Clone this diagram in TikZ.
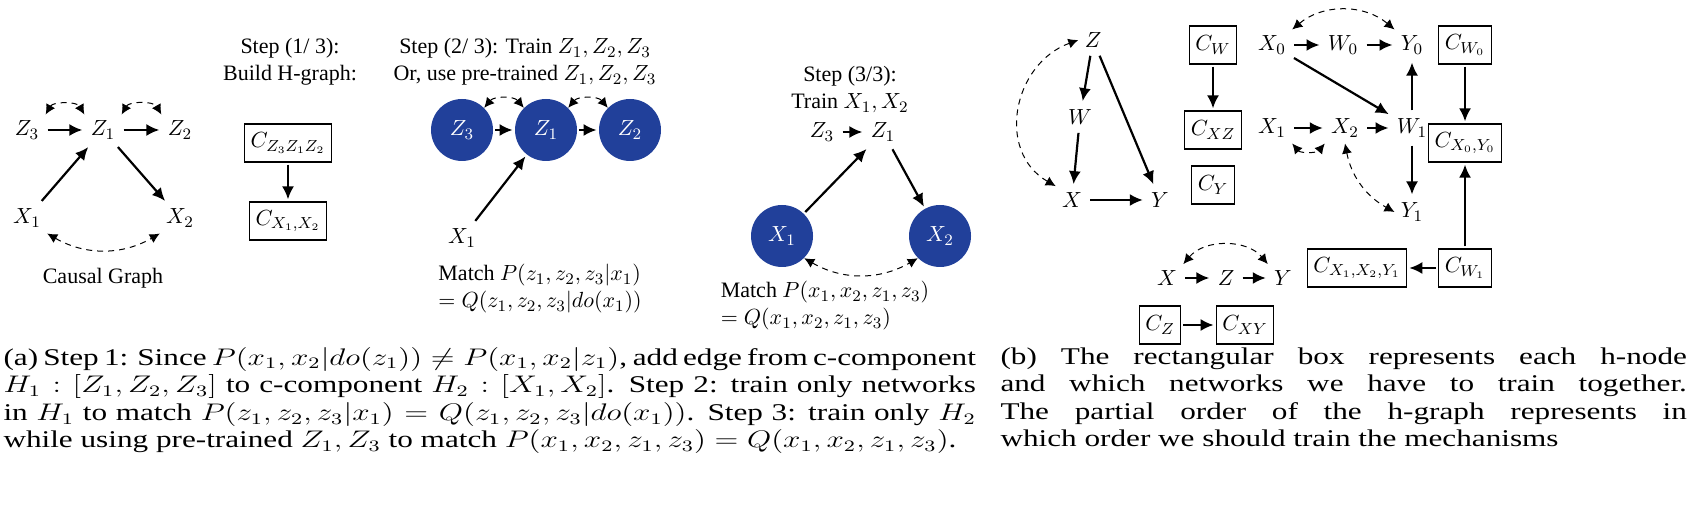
\documentclass[tikz,border=0pt]{standalone}
\usepackage{fontspec}
\setmainfont{Liberation Serif}
\usetikzlibrary{arrows.meta}
\definecolor{cblue}{RGB}{33,64,154}
\begin{document}
\begin{tikzpicture}[x=0.5pt,y=-0.5pt,font=\fontsize{11}{13.5}\selectfont,
  ar/.style={-{Latex[length=6.5pt,width=6pt]},line width=1.1pt,shorten >=1pt,shorten <=1pt},
  da/.style={{Latex[length=5pt,width=5pt]}-{Latex[length=5pt,width=5pt]},dash pattern=on 3pt off 2.5pt,line width=0.5pt},
  hbox/.style={draw,line width=0.6pt,minimum height=19pt,inner sep=3pt},
  bc/.style={circle,fill=cblue,text=white,minimum size=31pt,inner sep=0pt},
  captext/.style={anchor=north west,inner sep=0pt,xscale=1.3,transform shape,align=justify,font=\fontsize{12}{13.75}\selectfont},
  v/.style={inner sep=3pt}]
\useasboundingbox (0,0) rectangle (1690,507);
% causal graph
\node[v] (z3) at (27,130) {$Z_3$};
\node[v] (z1) at (103,130) {$Z_1$};
\node[v] (z2) at (180,130) {$Z_2$};
\node[v] (x1) at (27,218) {$X_1$};
\node[v] (x2) at (180,218) {$X_2$};
\draw[ar] (z3) -- (z1); \draw[ar] (z1) -- (z2);
\draw[ar] (x1) -- (z1); \draw[ar] (z1) -- (x2);
\draw[da] (z3.north east) to[bend left=60] (z1.north west);
\draw[da] (z1.north east) to[bend left=60] (z2.north west);
\draw[da] (x1.south east) to[bend right=30] (x2.south west);
\node (cg) at (103,278) {Causal Graph};
% step 1
\node (s1) at (290,62) {\begin{tabular}{c}Step (1/ 3):\\ Build H-graph:\end{tabular}};
\node[hbox] (ca) at (288,143) {$C_{Z_3Z_1Z_2}$};
\node[hbox] (cb) at (288,221) {$C_{X_1,X_2}$};
\draw[ar] (ca) -- (cb);
% step 2
\node (s2) at (525,62) {\begin{tabular}{c}Step (2/ 3): Train $Z_1,Z_2,Z_3$\\ Or, use pre-trained $Z_1,Z_2,Z_3$\end{tabular}};
\node[bc] (bz3) at (462,130) {$Z_3$};
\node[bc] (bz1) at (546,130) {$Z_1$};
\node[bc] (bz2) at (630,130) {$Z_2$};
\node[v] (bx1) at (462,238) {$X_1$};
\draw[ar] (bz3) -- (bz1); \draw[ar] (bz1) -- (bz2);
\draw[ar] (bx1) -- (bz1);
\draw[da] (bz3.north east) to[bend left=50] (bz1.north west);
\draw[da] (bz1.north east) to[bend left=50] (bz2.north west);
\node (m2) at (540,289) {\begin{tabular}{l}Match $P(z_1,z_2,z_3|x_1)$\\ $=Q(z_1,z_2,z_3|do(x_1))$\end{tabular}};
% step 3
\node (s3) at (850,90) {\begin{tabular}{c}Step (3/3):\\ Train $X_1,X_2$\end{tabular}};
\node[v] (cz3) at (822,132) {$Z_3$};
\node[v] (cz1) at (883,132) {$Z_1$};
\node[bc] (cx1) at (782,236) {$X_1$};
\node[bc] (cx2) at (940,236) {$X_2$};
\draw[ar] (cz3) -- (cz1); \draw[ar] (cx1) -- (cz1); \draw[ar] (cz1) -- (cx2);
\draw[da] (cx1.south east) to[bend right=30] (cx2.south west);
\node (m3) at (825,306) {\begin{tabular}{l}Match $P(x_1,x_2,z_1,z_3)$\\ $=Q(x_1,x_2,z_1,z_3)$\end{tabular}};
% captions
\node[captext,text width=374pt] (capa) at (3,347) {(a) Step 1: Since $P(x_1,x_2|do(z_1))\neq P(x_1,x_2|z_1)$, add edge from c-component\linebreak $H_1:[Z_1,Z_2,Z_3]$ to c-component $H_2:[X_1,X_2]$. Step 2: train only networks\linebreak in $H_1$ to match $P(z_1,z_2,z_3|x_1)=Q(z_1,z_2,z_3|do(x_1))$. Step 3: train only $H_2$\linebreak while using pre-trained $Z_1,Z_3$ to match $P(x_1,x_2,z_1,z_3)=Q(x_1,x_2,z_1,z_3)$.};
\node[captext,text width=264pt] (capb) at (1000,347) {(b) The rectangular box represents each h-node\linebreak and which networks we have to train together.\linebreak The partial order of the h-graph represents in\linebreak which order we should train the mechanisms};
% panel b triangle
\node[v] (tz) at (1093,40) {$Z$};
\node[v] (tw) at (1080,117) {$W$};
\node[v] (tx) at (1072,200) {$X$};
\node[v] (ty) at (1160,200) {$Y$};
\draw[ar] (tz) -- (tw); \draw[ar] (tw) -- (tx); \draw[ar] (tz) -- (ty); \draw[ar] (tx) -- (ty);
\draw[da] (tx.north west) to[out=150,in=200,looseness=1.2] (tz.west);
\node[hbox] (cw) at (1213,45) {$C_W$};
\node[hbox] (cxz) at (1213,130) {$C_{XZ}$};
\node[hbox] (cy) at (1213,185) {$C_Y$};
\draw[ar] (cw) -- (cxz);
% right graph
\node[v] (x0) at (1272,45) {$X_0$};
\node[v] (w0) at (1343,45) {$W_0$};
\node[v] (y0) at (1412,45) {$Y_0$};
\node[v] (rx1) at (1272,128) {$X_1$};
\node[v] (rx2) at (1345,128) {$X_2$};
\node[v] (w1) at (1412,128) {$W_1$};
\node[v] (y1) at (1412,212) {$Y_1$};
\draw[ar] (x0) -- (w0); \draw[ar] (w0) -- (y0); \draw[ar] (x0) -- (w1);
\draw[ar] (rx1) -- (rx2); \draw[ar] (rx2) -- (w1); \draw[ar] (w1) -- (y0); \draw[ar] (w1) -- (y1);
\draw[da] (x0.north east) to[bend left=40] (y0.north west);
\draw[da] (rx1.south east) to[bend right=50] (rx2.south west);
\draw[da] (rx2.south) to[bend right=25] (y1.west);
\node[hbox] (cw0) at (1465,45) {$C_{W_0}$};
\node[hbox] (cx0y0) at (1465,143) {$C_{X_0,Y_0}$};
\node[hbox] (cw1) at (1465,268) {$C_{W_1}$};
\node[hbox] (cx1x2y1) at (1357,268) {$C_{X_1,X_2,Y_1}$};
\draw[ar] (cw0) -- (cx0y0); \draw[ar] (cw1) -- (cx0y0); \draw[ar] (cw1) -- (cx1x2y1);
% bottom
\node[v] (bx) at (1167,278) {$X$};
\node[v] (bz) at (1226,278) {$Z$};
\node[v] (by) at (1283,278) {$Y$};
\draw[ar] (bx) -- (bz); \draw[ar] (bz) -- (by);
\draw[da] (bx.north east) to[bend left=50] (by.north west);
\node[hbox] (cz) at (1160,325) {$C_Z$};
\node[hbox] (cxy) at (1245,325) {$C_{XY}$};
\draw[ar] (cz) -- (cxy);
\end{tikzpicture}
\end{document}
